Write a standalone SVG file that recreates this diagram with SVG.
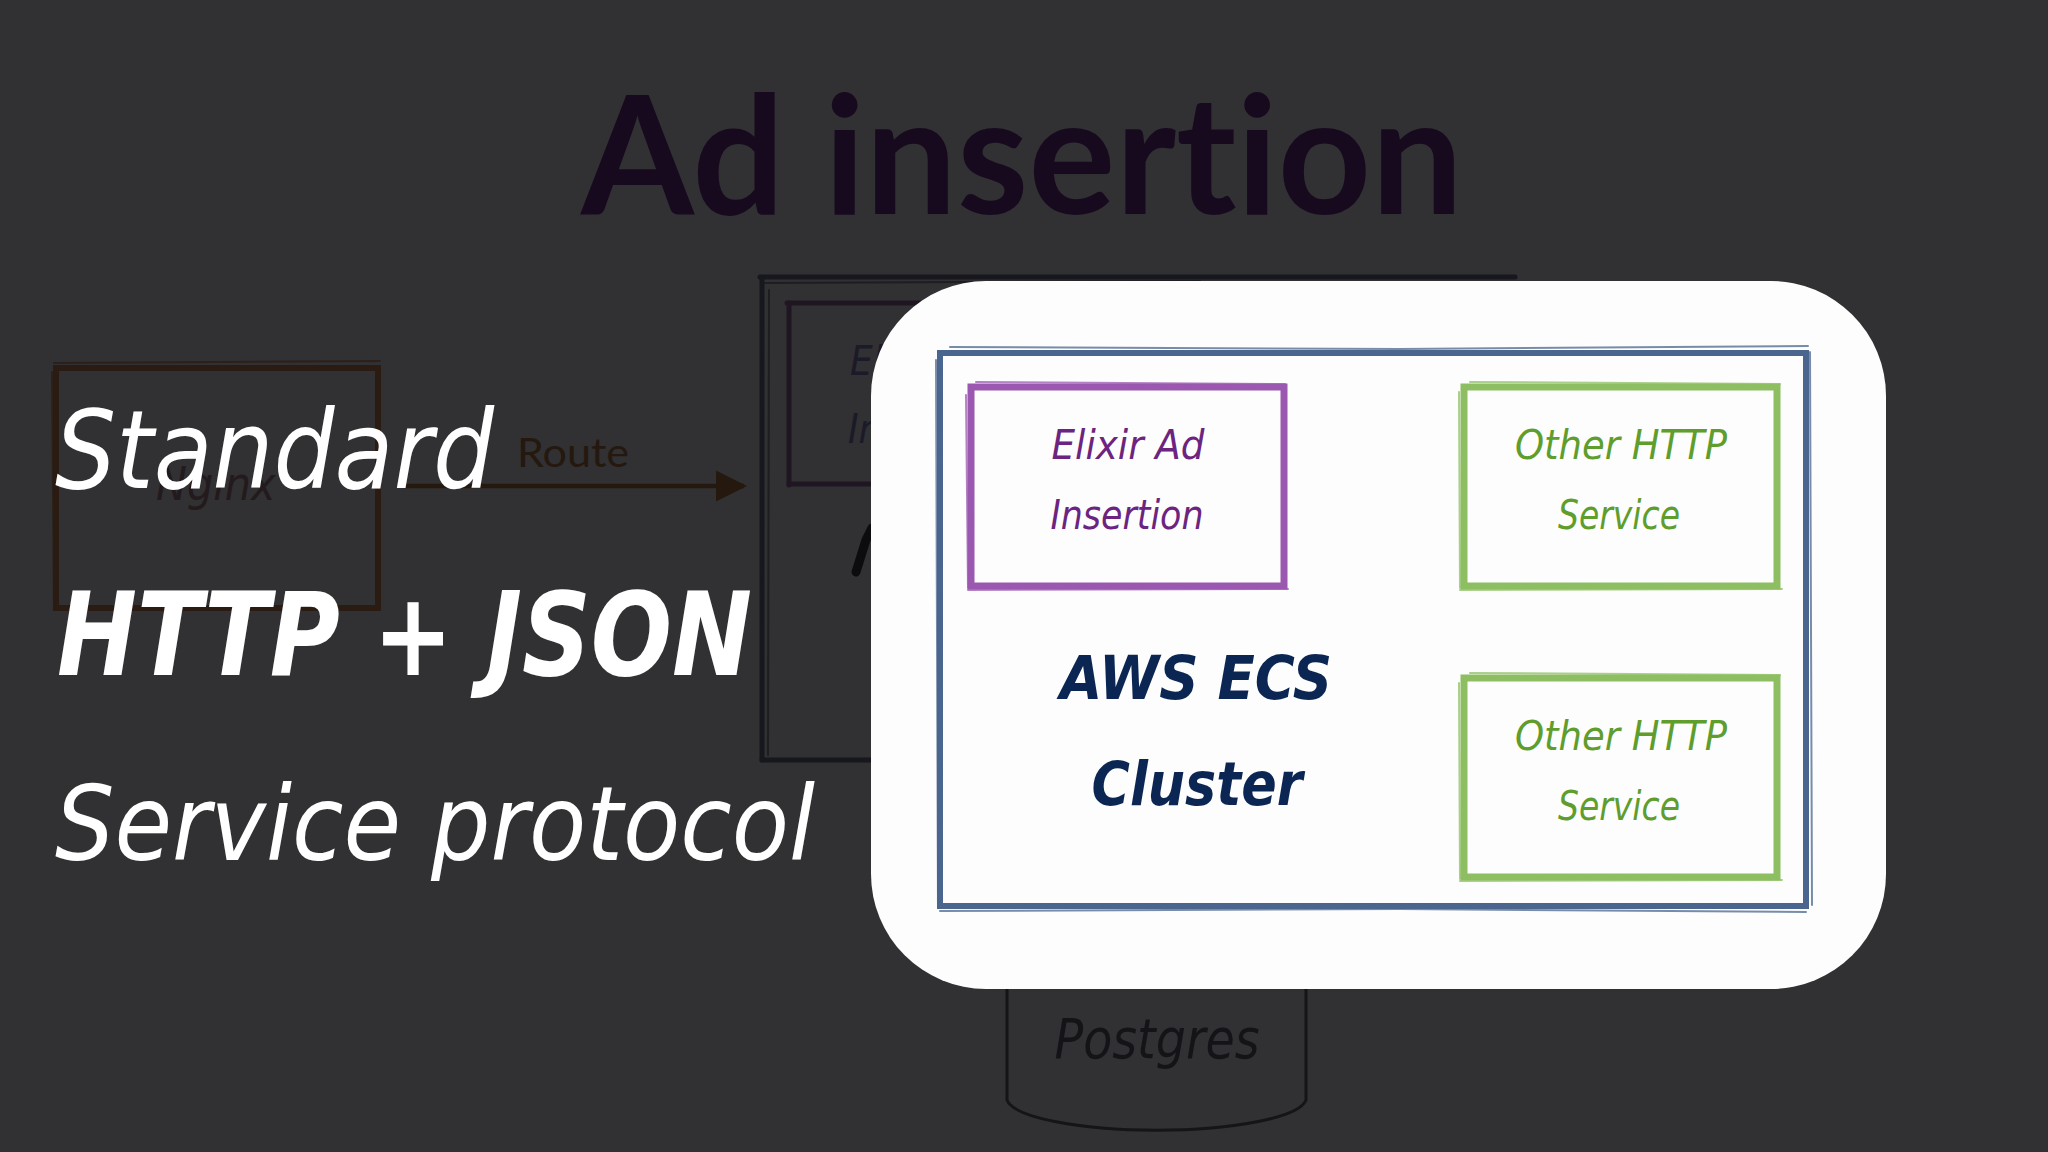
<svg xmlns="http://www.w3.org/2000/svg" width="2048" height="1152" viewBox="0 0 2048 1152">
  <style>
    .hand { font-family: "DejaVu Sans Condensed", "DejaVu Sans", sans-serif; font-style: oblique; font-stretch: condensed; }
    .faded-line { fill: none; stroke-linecap: round; }
    .rough { fill: none; stroke-linejoin: miter; }
    .thin { fill: none; stroke-width: 2; opacity: 0.75; stroke-linecap: round; }
    .purple { stroke: #9b58b0; }
    .green { stroke: #8dbf62; }
    .blue { stroke: #4b668e; }
    .t-purple { fill: #6b2580; font-size: 40px; }
    .t-green { fill: #5f9d2d; font-size: 40px; }
    .t-white { fill: #ffffff; }
  </style>
  <defs>
    <marker id="faded-arrow" viewBox="0 0 10 10" refX="9" refY="5" markerWidth="7" markerHeight="8" orient="auto">
      <path d="M0,0 L10,5 L0,10 z" fill="#24180f"/>
    </marker>
  </defs>

  <!-- background slide, dimmed -->
  <rect x="0" y="0" width="2048" height="1152" fill="#313032"/>

  <g id="title">
    <text x="581" y="214" font-family="Lato, 'Open Sans', sans-serif" font-weight="700" font-size="164" fill="#170a1e" style="font-variant-ligatures: none" textLength="882" lengthAdjust="spacingAndGlyphs">Ad insertion</text>
  </g>

  <g id="faded-nginx">
    <rect x="56" y="368" width="322" height="240" class="rough" stroke="#2a1c13" stroke-width="6"/>
    <path d="M54,363 L380,361" class="thin" stroke="#2a1c13"/>
    <path d="M52,372 L54,610" class="thin" stroke="#2a1c13"/>
    <text x="156" y="500" class="hand" font-size="46" fill="#221a1c">Nginx</text>
  </g>

  <g id="faded-ecs">
    <path d="M760,277 L1515,277" class="faded-line" stroke="#17181d" stroke-width="5"/>
    <path d="M762,283 L1200,281" class="thin" stroke="#17181d"/>
    <path d="M762,279 L762,760" class="faded-line" stroke="#17181d" stroke-width="5"/>
    <path d="M769,290 L768,755" class="thin" stroke="#17181d"/>
    <path d="M762,760 L1000,760" class="faded-line" stroke="#17181d" stroke-width="5"/>
    <path d="M787,303 L1100,303" class="faded-line" stroke="#1f1622" stroke-width="5"/>
    <path d="M789,303 L789,485" class="faded-line" stroke="#1f1622" stroke-width="5"/>
    <path d="M789,484 L1000,484" class="faded-line" stroke="#1f1622" stroke-width="5"/>
    <text x="850" y="375" class="hand" font-size="40" fill="#1a1a28">Elixir Ad</text>
    <text x="848" y="443" class="hand" font-size="40" fill="#1a1a28">Insertion</text>
    <path d="M856,572 L866,540 L872,528" fill="none" stroke="#0c0c0e" stroke-width="9" stroke-linecap="round"/>
  </g>

  <g id="faded-postgres">
    <path d="M1007,985 L1007,1100 A150,33 0 0 0 1306,1100 L1306,985" fill="none" stroke="#141519" stroke-width="3"/>
    <text x="1157" y="1058" text-anchor="middle" class="hand" font-size="56" fill="#141418" textLength="205" lengthAdjust="spacingAndGlyphs">Postgres</text>
  </g>

  <g id="connectors">
    <path d="M403,486 L744,486" fill="none" stroke="#24180f" stroke-width="4.5" marker-end="url(#faded-arrow)"/>
    <text x="517" y="467" font-family="Lato, 'Open Sans', sans-serif" font-size="40" fill="#24180f" textLength="112" lengthAdjust="spacingAndGlyphs">Route</text>
  </g>

  <!-- highlighted card -->
  <g id="card">
    <rect x="871" y="281" width="1015" height="708" rx="115" ry="115" fill="#fdfdfd"/>
  </g>

  <g id="aws-ecs-cluster">
    <rect x="940" y="353" width="866" height="553" class="rough blue" stroke-width="6"/>
    <path d="M950,347 L1400,349 L1808,346" class="thin blue"/>
    <path d="M1810,352 L1812,905" class="thin blue"/>
    <path d="M936,360 L938,908" class="thin blue"/>
    <path d="M940,911 L1400,909 L1806,912" class="thin blue"/>
    <text x="1196" y="699" text-anchor="middle" class="hand" font-weight="700" font-size="61" fill="#0c2654" textLength="272" lengthAdjust="spacingAndGlyphs">AWS ECS</text>
    <text x="1197" y="805" text-anchor="middle" class="hand" font-weight="700" font-size="61" fill="#0c2654" textLength="211" lengthAdjust="spacingAndGlyphs">Cluster</text>
  </g>

  <g id="elixir-ad-insertion">
    <rect x="971" y="387" width="313" height="199" class="rough purple" stroke-width="7"/>
    <path d="M976,382 L1285,384" class="thin purple"/>
    <path d="M966,395 L968,588" class="thin purple"/>
    <path d="M968,590 L1288,589" class="thin purple"/>
    <text x="1128" y="459" text-anchor="middle" class="hand t-purple" textLength="153" lengthAdjust="spacingAndGlyphs">Elixir Ad</text>
    <text x="1127" y="529" text-anchor="middle" class="hand t-purple" textLength="153" lengthAdjust="spacingAndGlyphs">Insertion</text>
  </g>

  <g id="other-http-service-1">
    <rect x="1464" y="387" width="313" height="199" class="rough green" stroke-width="7"/>
    <path d="M1470,382 L1780,384" class="thin green"/>
    <path d="M1459,392 L1460,588" class="thin green"/>
    <path d="M1460,590 L1782,589" class="thin green"/>
    <text x="1621" y="459" text-anchor="middle" class="hand t-green" textLength="212" lengthAdjust="spacingAndGlyphs">Other HTTP</text>
    <text x="1619" y="529" text-anchor="middle" class="hand t-green" textLength="122" lengthAdjust="spacingAndGlyphs">Service</text>
  </g>

  <g id="other-http-service-2">
    <rect x="1464" y="678" width="313" height="199" class="rough green" stroke-width="7"/>
    <path d="M1470,673 L1780,675" class="thin green"/>
    <path d="M1459,683 L1460,879" class="thin green"/>
    <path d="M1460,881 L1782,880" class="thin green"/>
    <text x="1621" y="750" text-anchor="middle" class="hand t-green" textLength="212" lengthAdjust="spacingAndGlyphs">Other HTTP</text>
    <text x="1619" y="820" text-anchor="middle" class="hand t-green" textLength="122" lengthAdjust="spacingAndGlyphs">Service</text>
  </g>

  <g id="caption">
    <text x="55" y="488" class="hand t-white" font-size="108" textLength="439" lengthAdjust="spacingAndGlyphs">Standard</text>
    <text x="57" y="675" class="hand t-white" font-weight="700" font-size="116" textLength="695" lengthAdjust="spacingAndGlyphs">HTTP + JSON</text>
    <text x="55" y="860" class="hand t-white" font-size="103" textLength="760" lengthAdjust="spacingAndGlyphs">Service protocol</text>
  </g>
</svg>
